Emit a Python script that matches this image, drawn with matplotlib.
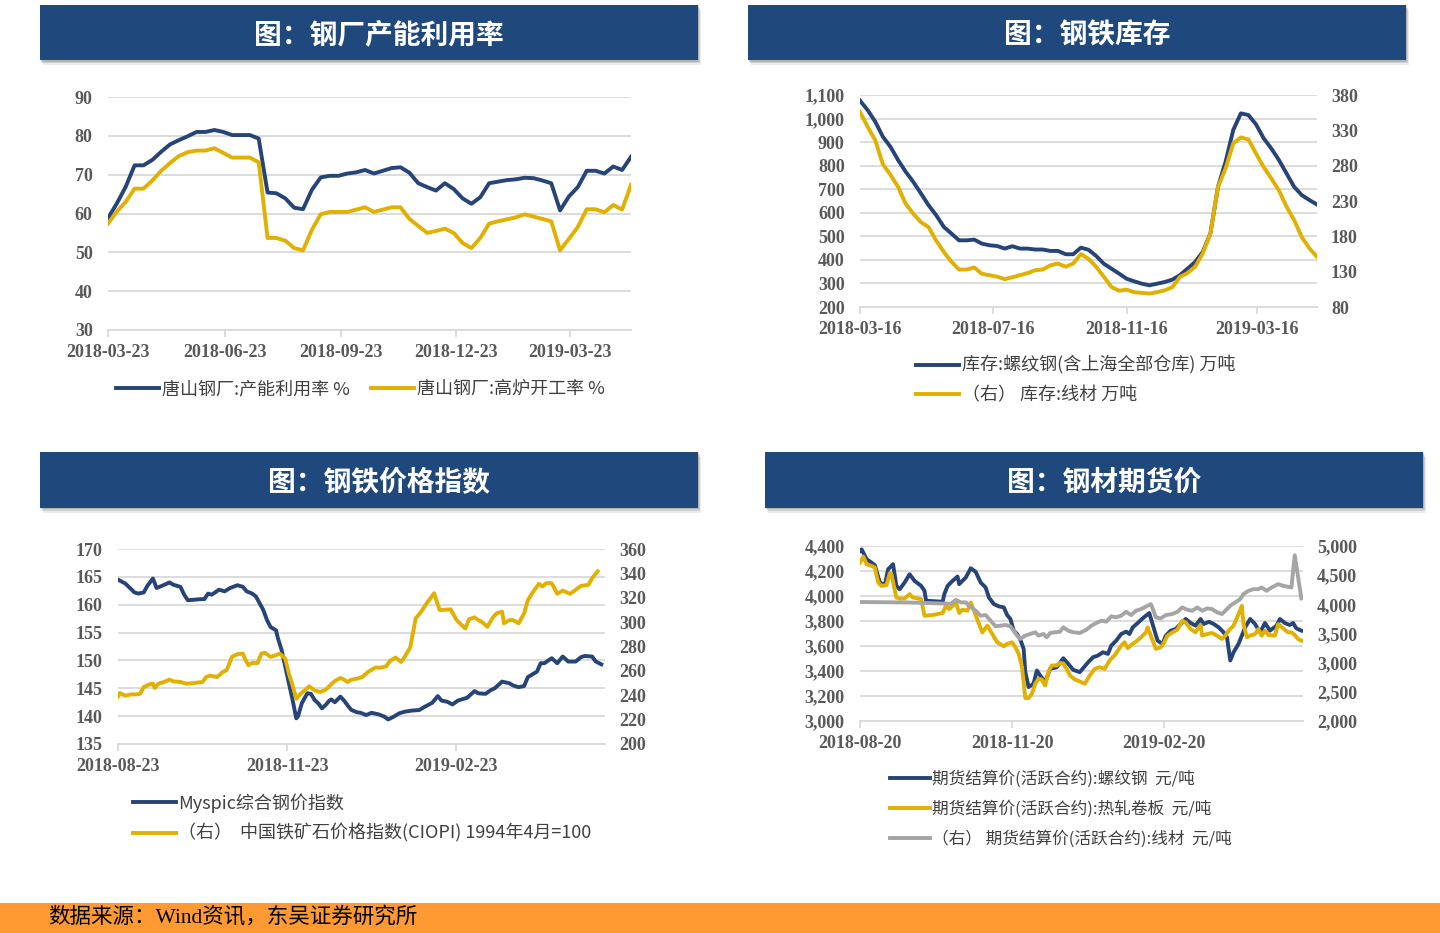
import numpy as np
import pandas as pd
import matplotlib
matplotlib.use("Agg")
import matplotlib.pyplot as plt
import matplotlib.dates as mdates
from matplotlib.patches import Rectangle
from matplotlib.ticker import FuncFormatter

# ---- data ----
# panel 1: weekly, from 2018-03-23
p1_start = "2018-03-23"
p1_util = [58.8, 62.6, 66.9, 72.4, 72.4, 73.8, 75.9, 77.8, 78.9, 79.9,
           81.0, 81.0, 81.5, 81.0, 80.2, 80.2, 80.2, 79.3, 65.4, 65.2,
           63.9, 61.5, 61.1, 66.1, 69.3, 69.7, 69.7, 70.3, 70.6, 71.2,
           70.3, 71.0, 71.7, 71.9, 70.5, 67.8, 66.8, 65.9, 67.8, 66.3,
           63.9, 62.5, 64.2, 67.8, 68.2, 68.6, 68.8, 69.2, 69.1, 68.5,
           67.8, 60.8, 64.4, 66.8, 71.0, 71.0, 70.3, 72.1, 71.2, 74.6]
p1_bf = [57.4, 60.5, 63.0, 66.4, 66.4, 68.5, 71.0, 73.0, 74.8, 75.8,
         76.2, 76.2, 76.8, 75.6, 74.4, 74.4, 74.4, 73.2, 53.7, 53.7,
         53.0, 51.1, 50.5, 55.8, 59.8, 60.4, 60.4, 60.4, 61.0, 61.6,
         60.4, 61.0, 61.6, 61.6, 58.6, 56.8, 55.0, 55.5, 56.1, 55.0,
         52.4, 51.1, 53.7, 57.4, 58.0, 58.5, 59.0, 59.8, 59.2, 58.6,
         58.0, 50.5, 53.5, 56.5, 61.1, 61.1, 60.3, 62.2, 61.0, 67.4]
p1_ticks = ["2018-03-23", "2018-06-23", "2018-09-23", "2018-12-23", "2019-03-23"]

# panel 2: weekly, from 2018-03-16
p2_start = "2018-03-16"
p2_rebar = [1076, 1036, 987, 923, 880, 824, 774, 731, 682, 632,
            590, 540, 512, 483, 483, 486, 469, 462, 459, 448,
            458, 448, 448, 444, 444, 438, 438, 424, 424, 452,
            443, 417, 384, 363, 342, 320, 309, 299, 292, 299,
            306, 316, 335, 363, 391, 434, 512, 710, 817, 951,
            1022, 1015, 975, 916, 873, 824, 767, 710, 675, 654, 635]
p2_wire = [356, 335, 316, 282, 267, 250, 226, 212, 200, 193,
           174, 158, 144, 133, 133, 136, 127, 125, 123, 119.5,
           122, 125, 128, 132, 133, 139, 141.5, 137, 141.5, 155,
           148, 137, 123, 108.5, 103, 104.6, 101, 100, 99, 101,
           103.6, 108, 122.5, 128, 137, 155.6, 184, 250, 276, 311.5,
           320, 317, 297, 278, 262, 245, 222, 203, 179, 163, 151]
p2_ticks = ["2018-03-16", "2018-07-16", "2018-11-16", "2019-03-16"]

# panel 3: daily series, days counted from 2018-08-23
p3_start = "2018-08-23"
p3_mysp_day = [0, 4, 9, 11, 14, 16, 19, 21, 24, 28, 30, 34, 36, 38, 45, 47, 49, 51, 55, 58,
               61, 65, 68, 70, 73, 75, 78, 79, 81, 83, 86, 87, 89, 91, 93, 95, 97, 98, 100, 103,
               105, 107, 109, 111, 113, 115, 116, 118, 121, 123, 125, 127, 130,
               132, 135, 138, 142, 145, 147, 150, 153, 156, 160, 164, 167, 171, 174, 176, 179, 182, 185,
               187, 190, 194, 196, 200, 203, 205, 209, 213, 215, 218, 221, 223, 228, 230, 232, 236, 239,
               242, 245, 249, 252, 254, 258, 260, 263]
p3_mysp = [164.5, 163.8, 162.2, 162.0, 162.2, 163.4, 164.7, 163.0, 163.4, 164.0,
           163.6, 163.2, 161.8, 160.8, 161.0, 161.0, 162.0, 161.8, 162.7, 162.4,
           163.0, 163.5, 163.2, 162.4, 162.0, 161.5, 159.7, 159.1, 157.3, 156.0,
           155.4, 154.0, 151.9, 148.9, 145.9, 142.9, 139.6, 140.0, 142.3, 144.1,
           144.0, 142.9, 142.3, 141.4, 142.0, 142.8, 143.0, 142.5, 143.5, 142.8,
           141.9, 141.1, 140.7,
           140.6, 140.2, 140.6, 140.3, 139.9, 139.4, 139.9, 140.5, 140.8, 141.0,
           141.1, 141.7, 142.4, 143.6, 142.8, 142.6, 142.1, 142.8, 143.0, 143.3,
           144.5, 144.1, 144.0, 144.7, 145.0, 146.2, 145.9, 145.5, 145.2, 145.4,
           147.0, 148.0, 149.5, 149.5, 150.4, 149.5, 150.7, 149.8, 149.8, 150.6,
           150.8, 150.7, 149.8, 149.3]
p3_ciopi_day = [0, 1, 4, 7, 10, 12, 14, 17, 19, 20, 22, 25, 28, 30, 34, 37, 41, 46, 48, 50,
                54, 57, 59, 60, 62, 65, 68, 69, 71, 73, 76, 78, 80, 83, 86, 88, 91, 93, 95, 97,
                99, 102, 104, 107, 110, 113, 116, 118, 121, 123, 125, 127, 130,
                133, 136, 140, 143, 146, 148, 151, 154, 156, 159, 162, 165, 168, 172, 175, 177,
                181, 184, 186, 189, 191, 194, 196, 198, 201, 204, 206, 209, 210, 213, 215, 218,
                221, 223, 226, 229, 231, 233, 236, 239, 242, 246, 249, 252, 256, 258, 261]
p3_ciopi = [239.0, 241.8, 239.6, 240.7, 240.7, 241.2, 246.7, 248.9, 249.5, 245.9,
            249.5, 250.9, 252.8, 251.4, 250.9, 249.5, 250.0, 250.9, 255.0, 256.1,
            255.0, 259.1, 260.5, 263.8, 271.5, 273.7, 274.2, 270.1, 264.6, 266.5,
            266.5, 274.2, 274.8, 271.5, 272.9, 274.2, 270.1, 257.7, 248.1, 237.1,
            240.7, 244.5, 247.3, 244.0, 242.6, 244.5, 248.9, 251.7, 254.2, 252.8,
            250.9, 252.8, 253.6,
            255.0, 259.1, 262.7, 262.7, 263.8, 268.2, 270.9, 267.4, 271.5, 279.2,
            303.1, 308.6, 315.5, 323.7, 310.0, 310.0, 310.5, 302.3, 299.0, 294.8,
            302.3, 303.9, 301.7, 300.3, 296.2, 303.9, 307.2, 308.6, 299.0, 301.7,
            301.7, 299.0, 307.2, 318.0, 325.1, 331.4, 329.2, 332.0, 332.0, 323.2,
            325.9, 323.2, 326.5, 329.8, 330.6, 336.1, 341.6]
p3_ticks = ["2018-08-23", "2018-11-23", "2019-02-23"]

# panel 4: daily series, days counted from 2018-08-20
p4_start = "2018-08-20"
p4_rebar_day = [0, 1, 4, 7, 9, 12, 15, 17, 20, 22, 24, 27, 30, 33, 37, 39, 40, 50, 51, 53,
                56, 59, 60, 64, 67, 70, 73, 76, 78, 81, 84, 87, 89, 91, 93, 95, 97, 99, 100, 102,
                105, 107, 109, 112, 115, 119, 123, 126, 129, 133,
                138, 141, 144, 147, 150, 152, 155, 158, 161, 163, 165, 168, 171, 175, 180, 183,
                185, 188, 191, 194, 197, 200, 203, 206, 208, 211, 214, 217, 220, 222, 224, 226,
                229, 231, 233, 236, 239, 242, 245, 248, 252, 254, 257, 260, 262, 264, 267]
p4_rebar = [4360, 4373, 4294, 4267, 4246, 4108, 4087, 4214, 4254, 4081,
            4054, 4108, 4174, 4121, 4081, 4041, 3962, 3954, 4015, 4081,
            4121, 4156, 4095, 4148, 4222, 4193, 4108, 4068, 3988, 3935,
            3917, 3909, 3848, 3816, 3723, 3696, 3651, 3577, 3391, 3271,
            3298, 3404, 3364, 3311, 3417, 3430, 3502, 3457, 3409, 3391,
            3470, 3510, 3524, 3550, 3537, 3603, 3643, 3696, 3715, 3696,
            3749, 3784, 3821, 3864, 3643, 3616, 3683, 3723, 3736, 3776,
            3816, 3784, 3763, 3816, 3776, 3794, 3776, 3749, 3709, 3670,
            3484, 3550, 3617, 3683, 3749, 3816, 3776, 3709, 3784, 3723,
            3763, 3816, 3784, 3768, 3784, 3741, 3723]
p4_hrc_day = [0, 2, 4, 7, 9, 11, 13, 16, 18, 19, 22, 24, 27, 30, 32, 37, 39, 44, 47, 50,
              52, 54, 57, 58, 60, 62, 65, 67, 69, 72, 74, 77, 80, 83, 87, 89, 92, 94, 96, 98,
              99, 100, 102, 104, 106, 108, 110, 112, 114, 116, 119, 121, 123, 125, 127, 130, 133,
              136, 139, 142, 145, 148, 151, 154, 156, 158, 160, 162, 164, 167, 170, 173, 174,
              179, 182, 184, 186, 189, 192, 195, 197, 200, 203, 206, 207, 210, 213, 216, 219,
              221, 223, 226, 229, 231, 232, 234, 236, 239, 241, 243, 245, 247, 251, 253, 256,
              259, 261, 263, 265, 267]
p4_hrc = [4267, 4315, 4254, 4241, 4227, 4108, 4081, 4087, 4182, 4174,
          3988, 3980, 3980, 4015, 3988, 3975, 3842, 3848, 3856, 3864,
          3922, 3895, 3935, 3948, 3864, 3890, 3882, 3948, 3882, 3776,
          3709, 3763, 3696, 3630, 3598, 3617, 3630, 3590, 3537, 3431,
          3311, 3184, 3184, 3218, 3298, 3338, 3332, 3284, 3391, 3444,
          3444, 3465, 3457, 3417, 3364, 3332, 3316,
          3298, 3364, 3417, 3431, 3417, 3484, 3524, 3563, 3603, 3630,
          3582, 3609, 3635, 3670, 3709, 3749, 3577, 3590, 3630, 3683,
          3709, 3731, 3802, 3789, 3736, 3709, 3768, 3683, 3696, 3704,
          3683, 3656, 3683, 3723, 3763, 3856, 3922, 3776, 3670, 3683,
          3696, 3736, 3683, 3723, 3688, 3683, 3776, 3741, 3709, 3709,
          3688, 3656, 3643]
p4_wire_day = [0, 28, 55, 58, 61, 64, 66, 70, 73, 76, 79, 82, 85, 88, 91, 93, 95, 97, 100, 103,
               106, 108, 111, 113, 115, 118, 121, 123, 126, 129, 133, 137, 140, 143, 146, 149,
               152, 155, 158, 161, 164, 167, 170, 174, 176, 179, 182, 185, 189, 192, 195, 198,
               201, 204, 207, 210, 213, 216, 219, 221, 224, 227, 230, 232, 235, 238, 241, 243,
               246, 249, 253, 256, 261, 263, 267]
p4_wire = [4040, 4032, 4010, 4078, 4033, 4033, 3976, 3890, 3805, 3816,
           3720, 3623, 3634, 3646, 3623, 3549, 3464, 3407, 3464, 3492,
           3521, 3464, 3492, 3435, 3509, 3521, 3532, 3606, 3549, 3521,
           3509, 3566, 3634, 3680, 3720, 3703, 3794, 3777, 3805, 3873,
           3816, 3890, 3919, 3976, 4004, 3777, 3760, 3816, 3834, 3873,
           3947, 3907, 3890, 3947, 3890, 3930, 3919, 3862, 3834, 3890,
           3976, 4033, 4090, 4175, 4232, 4260, 4260, 4289, 4232, 4289,
           4346, 4317, 4289, 4841, 4101]
p4_ticks = ["2018-08-20", "2018-11-20", "2019-02-20"]

# ---- style ----
W, H = 1440, 933
NAVY = "#1F497D"
BLUE = "#264478"
GOLD = "#E1B000"
GREY = "#A5A5A5"
GRID = "#D9D9D9"
TICK = "#595959"
LW = 2.8

fig = plt.figure(figsize=(W / 100, H / 100), dpi=100)
tickfont = dict(family=["Liberation Serif"], size=13, weight="bold")
comma = FuncFormatter(lambda v, p: f"{v:,.0f}")


def fx(x):
    return x / W


def fy(y):
    return 1 - y / H


def banner(l, t, r, b, text):
    for k, a in [(5, 0.15), (3, 0.25), (1.5, 0.35)]:
        fig.patches.append(Rectangle((fx(l + k * 0.6), fy(b + k)), (r - l) / W, (b - t) / H,
                                     transform=fig.transFigure, color="#7F7F7F", alpha=a, lw=0))
    fig.patches.append(Rectangle((fx(l), fy(b)), (r - l) / W, (b - t) / H,
                                 transform=fig.transFigure, color=NAVY, lw=0))
    # the title sits a little right of the box centre in the original
    fig.text(fx((l + r) / 2 + 10), fy((t + b) / 2 + 3), text, color="white", fontsize=20,
             fontweight="bold", family=["Noto Sans CJK SC"], ha="center", va="center")


def make_axes(l, t, r, b):
    ax = fig.add_axes([fx(l), fy(b), (r - l) / W, (b - t) / H])
    for s in ["top", "right", "left"]:
        ax.spines[s].set_visible(False)
    ax.spines["bottom"].set_color(GRID)
    ax.spines["bottom"].set_linewidth(1.3)
    ax.yaxis.grid(True, color=GRID, lw=1.3)
    ax.set_axisbelow(True)
    ax.tick_params(axis="x", length=5, width=1.3, color=GRID, pad=5)
    ax.tick_params(axis="y", length=0, pad=11)
    ax.xaxis.set_major_formatter(mdates.DateFormatter("%Y-%m-%d"))
    return ax


def finish(ax, ticks, yticks, fmt=None):
    ax.set_xticks(pd.to_datetime(ticks))
    ax.set_yticks(yticks)
    ax.set_ylim(yticks[0], yticks[-1])
    if fmt is not None:
        ax.yaxis.set_major_formatter(fmt)
    for lab in ax.get_xticklabels() + ax.get_yticklabels():
        lab.set_fontproperties(tickfont)
        lab.set_color(TICK)


def twin(ax, yticks, fmt=None):
    ax2 = ax.twinx()
    for s in ax2.spines.values():
        s.set_visible(False)
    ax2.tick_params(axis="y", length=0, pad=10)
    ax2.set_yticks(yticks)
    ax2.set_ylim(yticks[0], yticks[-1])
    if fmt is not None:
        ax2.yaxis.set_major_formatter(fmt)
    for lab in ax2.get_yticklabels():
        lab.set_fontproperties(tickfont)
        lab.set_color(TICK)
    return ax2


def legend(ax, handles, x, y, ncol=1, size=13, spacing=0.62):
    leg = ax.legend(handles=handles, loc="center left", bbox_to_anchor=(fx(x), fy(y)),
                    bbox_transform=fig.transFigure, ncol=ncol, frameon=False,
                    handlelength=2.4, handletextpad=0.12, columnspacing=1.2,
                    labelspacing=spacing, borderpad=0, borderaxespad=0,
                    prop=dict(family=["Noto Sans CJK SC", "DejaVu Sans"], size=size))
    for t in leg.get_texts():
        t.set_color("#404040")
    return leg


# ---- panel 1 ----
banner(40, 5, 698, 60, "图：钢厂产能利用率")
ax1 = make_axes(108, 97, 631, 330)
d1 = pd.date_range(p1_start, periods=len(p1_util), freq="7D")
h1, = ax1.plot(d1, p1_util, color=BLUE, lw=LW, label="唐山钢厂:产能利用率 %")
h2, = ax1.plot(d1, p1_bf, color=GOLD, lw=LW, label="唐山钢厂:高炉开工率 %")
ax1.set_xlim(d1[0], d1[-1])
finish(ax1, p1_ticks, [30, 40, 50, 60, 70, 80, 90])
legend(ax1, [h1, h2], 116, 389, ncol=2)

# ---- panel 2 ----
banner(748, 5, 1406, 60, "图：钢铁库存")
ax2 = make_axes(860, 95, 1317, 307)
d2 = pd.date_range(p2_start, periods=len(p2_rebar), freq="7D")
h1, = ax2.plot(d2, p2_rebar, color=BLUE, lw=LW, label="库存:螺纹钢(含上海全部仓库) 万吨")
ax2.set_xlim(d2[0], d2[-1])
finish(ax2, p2_ticks, list(range(200, 1101, 100)), comma)
ax2r = twin(ax2, list(range(80, 381, 50)))
h2, = ax2r.plot(d2, p2_wire, color=GOLD, lw=LW, label="（右） 库存:线材 万吨")
legend(ax2, [h1, h2], 916, 380)

# ---- panel 3 ----
banner(40, 452, 698, 508, "图：钢铁价格指数")
ax3 = make_axes(118, 549, 605, 744)
s3 = pd.Timestamp(p3_start)
h1, = ax3.plot(s3 + pd.to_timedelta(p3_mysp_day, unit="D"), p3_mysp, color=BLUE, lw=LW,
               label="Myspic综合钢价指数")
ax3.set_xlim(s3, s3 + pd.Timedelta(days=265))
finish(ax3, p3_ticks, list(range(135, 171, 5)))
ax3r = twin(ax3, list(range(200, 361, 20)))
h2, = ax3r.plot(s3 + pd.to_timedelta(p3_ciopi_day, unit="D"), p3_ciopi, color=GOLD, lw=LW,
                label="（右）  中国铁矿石价格指数(CIOPI) 1994年4月=100")
legend(ax3, [h1, h2], 133, 818)

# ---- panel 4 ----
banner(765, 452, 1423, 508, "图：钢材期货价")
ax4 = make_axes(860, 546, 1303, 721)
s4 = pd.Timestamp(p4_start)
h1, = ax4.plot(s4 + pd.to_timedelta(p4_rebar_day, unit="D"), p4_rebar, color=BLUE, lw=LW,
               label="期货结算价(活跃合约):螺纹钢  元/吨")
h2, = ax4.plot(s4 + pd.to_timedelta(p4_hrc_day, unit="D"), p4_hrc, color=GOLD, lw=LW,
               label="期货结算价(活跃合约):热轧卷板  元/吨")
ax4.set_xlim(s4, s4 + pd.Timedelta(days=268))
finish(ax4, p4_ticks, list(range(3000, 4401, 200)), comma)
ax4r = twin(ax4, list(range(2000, 5001, 500)), comma)
h3, = ax4r.plot(s4 + pd.to_timedelta(p4_wire_day, unit="D"), p4_wire, color=GREY, lw=LW,
                label="（右） 期货结算价(活跃合约):线材  元/吨")
legend(ax4, [h1, h2, h3], 890, 809, size=12, spacing=0.76)

# ---- source footer ----
fig.patches.append(Rectangle((0, 0), 1, 30 / H, transform=fig.transFigure, color="#FF9A33", lw=0))
fig.text(fx(48), fy(917), "数据来源：Wind资讯，东吴证券研究所", fontsize=15.5,
         family=["Liberation Serif", "Noto Sans CJK SC"], color="black", va="center")

fig.savefig("out.png", dpi=100)
